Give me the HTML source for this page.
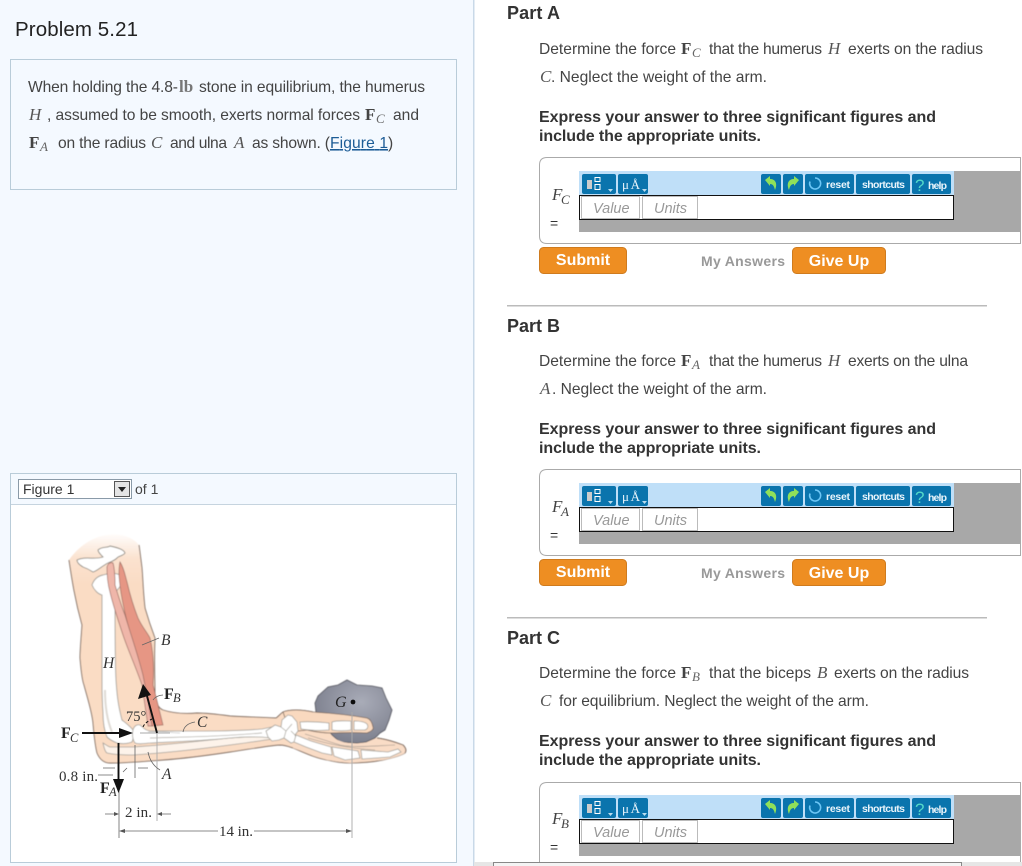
<!DOCTYPE html>
<html><head><meta charset="utf-8"><title>Problem 5.21</title>
<style>
html,body{margin:0;padding:0;width:1022px;height:866px;overflow:hidden;background:#fff}
svg{display:block}
text{font-family:"Liberation Sans",sans-serif}
.t{font-size:15.6px;fill:#444}
.m{font-family:"Liberation Serif",serif;font-style:italic;font-size:17px;fill:#555}
.mb{font-family:"Liberation Serif",serif;font-weight:bold;font-size:17px;fill:#444}
.s{font-family:"Liberation Serif",serif;font-style:italic;font-size:13px;fill:#666}
.h{font-size:18px;font-weight:bold;fill:#333}
.b{font-size:16px;font-weight:bold;fill:#333}
.btn{fill:#0a74ad}
.w{font-size:10.5px;font-weight:bold;fill:#e8f4fb}
.ph{font-size:14.5px;font-style:italic;fill:#999}
.o{fill:#ee8e22;stroke:#cf7b1e}
.ot{font-size:16px;font-weight:bold;fill:#fff;text-anchor:middle}
.my{font-size:14px;font-weight:bold;fill:#999}
.fs{font-family:"Liberation Serif",serif;font-size:15px;fill:#333}
.fi{font-family:"Liberation Serif",serif;font-size:15.5px;font-style:italic;fill:#333}
.fb{font-family:"Liberation Serif",serif;font-size:16px;font-weight:bold;fill:#222}
.fsub{font-family:"Liberation Serif",serif;font-size:12.5px;font-style:italic;fill:#333}
.bone{fill:#fff;stroke:#a5a199;stroke-width:.8}
.ol{fill:none;stroke:#7a665a;stroke-width:.9}
.dim{stroke:#666;stroke-width:.8;fill:none}
.lt{stroke:#aaa;stroke-width:.9;fill:none}
</style></head><body>
<svg width="1022" height="866" viewBox="0 0 1022 866" xmlns="http://www.w3.org/2000/svg">
<defs>
<linearGradient id="arm" gradientUnits="userSpaceOnUse" x1="0" y1="532" x2="0" y2="585"><stop offset="0" stop-color="#ffffff"/><stop offset=".5" stop-color="#fbe2cf"/><stop offset="1" stop-color="#fadcc4"/></linearGradient>
<radialGradient id="st" cx="60%" cy="35%" r="70%"><stop offset="0" stop-color="#a9acb8"/><stop offset="1" stop-color="#7a7d8b"/></radialGradient>
<filter id="bl"><feGaussianBlur stdDeviation=".4"/></filter>
<filter id="bl2"><feGaussianBlur stdDeviation=".25"/></filter>
</defs>

<!-- left column -->
<rect x="0" y="0" width="473" height="866" fill="#f4f9ff"/>
<rect x="473" y="0" width="1.5" height="866" fill="#c9d9e8"/>
<text x="15" y="36" font-size="20.5" fill="#222" textLength="123">Problem 5.21</text>
<rect x="10.5" y="59.5" width="446" height="130" fill="#f4f9ff" stroke="#b9ccd9"/>
<text class="t" x="28" y="92" textLength="150">When holding the 4.8-</text>
<text class="mb" x="179" y="92" style="fill:#777">lb</text>
<text class="t" x="199" y="92" textLength="226">stone in equilibrium, the humerus</text>
<text class="m" x="29" y="120">H</text>
<text class="t" x="47" y="120" textLength="313">, assumed to be smooth, exerts normal forces</text>
<text class="mb" x="365" y="120">F</text><text class="s" x="376" y="123">C</text>
<text class="t" x="393" y="120" textLength="26">and</text>
<text class="mb" x="29" y="148">F</text><text class="s" x="40" y="151">A</text>
<text class="t" x="58" y="148" textLength="88">on the radius</text>
<text class="m" x="151" y="148">C</text>
<text class="t" x="170" y="148" textLength="57">and ulna</text>
<text class="m" x="234" y="148">A</text>
<text class="t" x="252" y="148" textLength="78">as shown. (</text>
<text class="t" x="330" y="148" textLength="58" style="fill:#1c5c96" text-decoration="underline">Figure 1</text>
<text class="t" x="388" y="148">)</text>

<!-- figure box -->
<rect x="10.5" y="473.5" width="446" height="389" fill="#fff" stroke="#b9ccd9"/>
<rect x="11" y="474" width="445" height="30" fill="#f4f9ff"/>
<line x1="11" y1="504.5" x2="456" y2="504.5" stroke="#c6d4df"/>
<rect x="18.5" y="479.5" width="113" height="19" fill="#fff" stroke="#8a9aa8"/>
<text x="23" y="494" font-size="14" fill="#333">Figure 1</text>
<rect x="114.5" y="481.5" width="15" height="15" fill="#e4e4e4" stroke="#555"/>
<path d="M118 487h8l-4 5z" fill="#222"/>
<text x="135" y="494" font-size="14" fill="#444">of 1</text>

<!-- arm drawing -->
<g filter="url(#bl)">
<path d="M69 560C72 580 75 600 82 625C81 640 80 650 80 658C81 670 82 680 84 685C88 700 92 712 93 723C94 735 95 745 97 753C100 760 104 763 110 763C130 763 150 761 163 760C190 758 210 755 230 752C245 750 265 746 280 745C285 745 290 747 293 748C305 753 315 758 327 760C335 762 343 763 350 763C362 763 373 762 383 760C392 758 400 756 405 753C407 750 405 747 403 745C395 742 385 739 377 738L367 733C372 731 374 729 373 727C372 722 370 719 367 718C350 715 330 713 313 712C303 710 290 709 283 712C280 714 278 717 276 718C260 717 245 717 230 716C215 714 205 713 197 713C185 714 172 713 163 710C158 708 156 703 155 697C155 680 154 660 155 638C150 625 147 615 145 608C143 590 143 580 142 568C141 560 140 552 139 545C125 528 90 530 69 560Z" fill="url(#arm)"/>
<path class="ol" d="M69 560C72 580 75 600 82 625C81 640 80 650 80 658C81 670 82 680 84 685C88 700 92 712 93 723C94 735 95 745 97 753C100 760 104 763 110 763C130 763 150 761 163 760C190 758 210 755 230 752C245 750 265 746 280 745C285 745 290 747 293 748C305 753 315 758 327 760C335 762 343 763 350 763C362 763 373 762 383 760C392 758 400 756 405 753C407 750 405 747 403 745C395 742 385 739 377 738"/>
<path class="ol" d="M139 545C140 552 141 560 142 568C143 580 143 590 145 608C147 615 150 625 155 638C154 660 155 680 155 697C156 703 158 708 163 710C172 713 185 714 197 713C205 713 215 714 230 716C245 717 260 717 276 718C278 717 280 714 283 712C290 709 303 710 313 712"/>
<!-- stone -->
<path d="M315 703L318 696 328 687 338 685 347 680 357 685 372 686 382 688 386 698 392 710 389 720 385 730 380 733 375 738 366 742 357 743 340 742 332 735 322 722 316 712Z" fill="url(#st)" stroke="#4f5059" stroke-width=".8"/>
<!-- thumb and palm -->
<path d="M283 712C290 709 303 710 313 712C330 713 350 715 367 718C370 719 372 722 373 727C374 729 372 731 367 733C350 732 340 733 330 733C320 733 312 731 307 730L290 732Z" fill="#f9d9bf" stroke="#7a665a" stroke-width=".8"/>
<path d="M297 734C310 737 325 738 333 737C340 743 355 745 366 743C370 742 374 740 377 738C385 739 395 742 403 745C405 747 407 750 405 753C400 756 392 758 383 760L350 763 327 760 293 748Z" fill="#f9dcc6"/>
<path class="ol" d="M377 738C385 739 395 742 403 745C405 747 407 750 405 753"/>
<!-- scapula / humerus -->
<path d="M77 560C85 556 95 560 103 557C100 554 98 552 98 550C102 546 108 548 110 546C115 547 124 549 125 553C123 556 118 556 117 558C114 561 110 562 108 563C102 566 97 571 93 572C90 570 86 568 83 567C80 565 77 563 77 560Z" fill="#fff" stroke="#8f8a80" stroke-width=".9"/>
<path d="M92 585C94 579 98 576 103 575C110 573 116 573 120 575C122 577 123 580 123 582C120 587 118 590 115 592C115 620 115 660 116 680C117 695 118 705 122 720C127 724 131 727 133 730C134 735 133 740 132 742C127 744 122 744 117 743C112 741 109 739 107 737C104 730 103 722 103 713C102 700 102 690 102 680C102 650 102 620 102 595C98 594 94 590 92 585Z" fill="#fff" stroke="#a5a199" stroke-width=".9"/>
<path d="M105 690C105 705 107 720 112 732" stroke="#dedad4" stroke-width="2" fill="none"/>
<!-- ulna -->
<path d="M103 743C104 748 105 752 107 753C115 755 125 755 133 755C165 753 200 749 230 745C245 743 260 741 272 739L272 735C255 737 245 737 230 738C200 741 165 745 133 747C125 747 115 747 110 747C107 746 105 744 103 743Z" fill="#fdf3ea" stroke="#a5a199" stroke-width=".8"/>
<!-- radius -->
<path d="M133 730C134 726 137 724 140 725C143 727 144 730 150 731C180 731 225 732 262 729L272 727L272 738C255 736 240 737 230 738C200 741 170 742 150 743C146 743 140 745 135 743C133 740 132 735 133 730Z" class="bone"/>
<path d="M150 738C180 737 215 737 262 733" stroke="#a8a49c" stroke-width=".7" fill="none"/>
<path d="M148 732C165 731 172 733 180 733" fill="none" stroke="#aaa" stroke-width=".5"/>
<!-- carpals -->
<path d="M266 731L275 725 281 727 282 720 288 715 292 716 297 722 298 731 295 735 297 741 291 743 284 738 279 740 272 741 268 737Z" class="bone"/>
<path d="M281 727L286 731 292 724M286 731L284 738M291 731L295 735" stroke="#a5a199" stroke-width=".7" fill="none"/>
<!-- thumb bones -->
<path d="M300 722C310 721 318 722 329 723L329 730C318 731 308 730 301 729Z" class="bone"/>
<path d="M332 722C338 720 345 721 351 721L351 730C345 731 338 731 332 730Z" class="bone"/>
<path d="M354 721C360 721 365 722 367 724C369 727 367 730 364 730L354 730Z" class="bone"/>
<!-- finger bones -->
<path d="M296 735L311 741 331 747 332 755 322 753 306 747 294 742Z" class="bone"/>
<path d="M332 747L358 751 360 758 345 760 334 756Z" class="bone"/>
<path d="M361 750L388 752 398 749 401 752 390 757 362 759Z" class="bone"/>
<path d="M305 734C318 738 330 742 340 745C355 748 372 746 395 745" stroke="#948d84" stroke-width=".6" fill="none"/>
<path d="M308 738C325 743 345 748 375 750" stroke="#948d84" stroke-width=".6" fill="none"/>
<!-- biceps -->
<path d="M120 562C124 568 125 575 127 582C130 595 134 608 138 618C142 627 147 632 150 638C153 650 154 668 153 685L163 725 152 726 146 695C142 675 135 650 128 625C124 610 120 590 119 575C119 570 119 566 120 562Z" fill="#e69684" stroke="#9a6a60" stroke-width=".7"/>
<path d="M107 567C108 563 111 562 113 563C115 570 115 578 115 585C118 595 121 605 125 615C131 635 138 655 143 675C146 690 149 705 152 726L148 726C146 712 144 698 142 685C135 665 128 650 123 635C118 620 113 605 110 592C108 585 107 575 107 567Z" fill="#efb6a9" stroke="#9a6a60" stroke-width=".7"/>
</g>

<!-- dimensions -->
<g class="lt">
<line x1="157" y1="733" x2="157" y2="821"/>
<line x1="352" y1="712" x2="352" y2="838"/>
<line x1="140" y1="733" x2="170" y2="733"/>
</g>
<g class="dim">
<line x1="119" y1="790" x2="119" y2="838"/>
<line x1="135" y1="745" x2="135" y2="778"/>
<path d="M103 768H115M138 768H148M98 775H113M123 772L127 768"/>
<path d="M105 814H117M159 814H171"/>
<path d="M122 831H218M254 831H350"/>
<path d="M148 752C150 762 155 767 160 770"/>
<path d="M183 732C184 726 189 723 195 722"/>
<path d="M142 645L159 638"/>
<path d="M153 700C155 697 159 695 163 695"/>
</g>
<path d="M119 831l6-2v4zM352 831l-6-2v4zM119 814l-5-2v4zM157 814l5-2v4z" fill="#555"/>

<!-- force arrows -->
<g fill="#111" stroke="#111">
<line x1="82" y1="733" x2="122" y2="733" stroke-width="1.9"/>
<path d="M119 728L133 733 119 738Z" stroke="none"/>
<line x1="118.500" y1="743" x2="118.500" y2="782" stroke-width="1.9"/>
<path d="M113 779L118.500 793 124 779Z" stroke="none"/>
<line x1="157" y1="733" x2="147" y2="696" stroke-width="1.9"/>
<path d="M151 695L143 684 138 699Z" stroke="none"/>
<path d="M143 727C144 724 148 721 152 719" fill="none" stroke-width="1" stroke-dasharray="3 2"/>
</g>

<g filter="url(#bl2)">
<text class="fs" x="126" y="721" style="font-size:14.500px">75°</text>
<text class="fi" x="103" y="668">H</text>
<text class="fi" x="161" y="645">B</text>
<text class="fb" x="164" y="699">F</text><text class="fsub" x="173" y="702">B</text>
<text class="fi" x="197" y="727">C</text>
<text class="fi" x="335" y="707" style="font-size:16px;fill:#222">G</text>
<circle cx="353" cy="702" r="2.400" fill="#111"/>
<text class="fb" x="61" y="738">F</text><text class="fsub" x="70" y="742">C</text>
<text class="fs" x="59" y="781" textLength="39">0.8 in.</text>
<text class="fb" x="100" y="793">F</text><text class="fsub" x="109" y="796">A</text>
<text class="fi" x="162" y="779">A</text>
<text class="fs" x="125" y="817" textLength="27">2 in.</text>
<text class="fs" x="219" y="836" textLength="34">14 in.</text>
</g>

<!-- PART A -->
<text class="h" x="507" y="19" textLength="53">Part A</text>
<text class="t" x="539" y="54" textLength="137">Determine the force</text>
<text class="mb" x="681" y="54">F</text><text class="s" x="692" y="57">C</text>
<text class="t" x="709" y="54" textLength="113">that the humerus</text>
<text class="m" x="828" y="54">H</text>
<text class="t" x="848" y="54" textLength="135">exerts on the radius</text>
<text class="m" x="540" y="82">C</text>
<text class="t" x="551" y="82" textLength="216">. Neglect the weight of the arm.</text>
<text class="b" x="539" y="122" textLength="397">Express your answer to three significant figures and</text>
<text class="b" x="539" y="141" textLength="222">include the appropriate units.</text>
<g>
<path d="M1020.500 157.500H547Q539.500 157.500 539.500 165V236Q539.500 243.500 547 243.500H1020.500Z" fill="#fff" stroke="#aaa"/>
<rect x="579" y="171" width="375" height="24" fill="#bfdff8"/>
<rect x="954" y="171" width="66" height="61" fill="#a8a8a8"/>
<rect x="579" y="220" width="375" height="12" fill="#a8a8a8"/>
<rect x="579.500" y="195.500" width="374" height="24" fill="#fff" stroke="#111"/>
<rect x="581.500" y="196.500" width="58" height="22" fill="#fff" stroke="#bbb"/>
<rect x="642.500" y="196.500" width="55" height="22" fill="#fff" stroke="#bbb"/>
<text class="ph" x="593" y="213">Value</text><text class="ph" x="654" y="213">Units</text>
<rect class="btn" x="582" y="174" width="34" height="20" rx="2"/><rect class="btn" x="618" y="174" width="30" height="20" rx="2"/>
<rect x="587" y="180" width="5" height="9" fill="#ccc"/><path d="M595 177.500h5v4h-5zM595 184.500h5v5h-5z" fill="none" stroke="#fff"/><path d="M608 189h5l-2.500 3z" fill="#bde"/>
<text x="622" y="189" font-size="13" fill="#e8f4fb" style="font-family:'Liberation Serif',serif" textLength="18">μÅ</text><path d="M642 189h5l-2.500 3z" fill="#bde"/>
<rect class="btn" x="761" y="174" width="20" height="20" rx="2"/><rect class="btn" x="783" y="174" width="20" height="20" rx="2"/>
<rect class="btn" x="805" y="174" width="49" height="20" rx="2"/><rect class="btn" x="856" y="174" width="54" height="20" rx="2"/><rect class="btn" x="912" y="174" width="39" height="20" rx="2"/>
<path d="M765 180l5-4v3c5 0 8 4 5 11c-1-4-2-6-5-6v2z" fill="#8fe05a"/><path d="M799 180l-5-4v3c-5 0-8 4-5 11c1-4 2-6 5-6v2z" fill="#8fe05a"/>
<path d="M815 178a5.500 5.500 0 1 1-5 3.500" fill="none" stroke="#6cc6f5" stroke-width="1.600"/>
<text class="w" x="826" y="188" textLength="24">reset</text><text class="w" x="862" y="188" textLength="43">shortcuts</text>
<text x="915" y="191" font-size="17" fill="#53d8c8">?</text><text class="w" x="928" y="189" textLength="19">help</text>
<text class="m" x="552" y="200" style="fill:#444">F</text><text class="s" x="561" y="204" style="fill:#444">C</text>
<text x="550" y="228" font-size="14" fill="#333">=</text>
<rect class="o" x="539.500" y="247.500" width="87" height="26" rx="4"/><text class="ot" x="583" y="265">Submit</text>
<text class="my" x="701" y="266" textLength="84">My Answers</text>
<rect class="o" x="792.500" y="247.500" width="93" height="26" rx="4"/><text class="ot" x="839" y="266">Give Up</text>
</g>
<rect x="507" y="305" width="480" height="1.500" fill="#bbb"/>

<!-- PART B -->
<text class="h" x="507" y="332" textLength="53">Part B</text>
<text class="t" x="539" y="366" textLength="137">Determine the force</text>
<text class="mb" x="681" y="366">F</text><text class="s" x="692" y="369">A</text>
<text class="t" x="709" y="366" textLength="113">that the humerus</text>
<text class="m" x="828" y="366">H</text>
<text class="t" x="848" y="366" textLength="120">exerts on the ulna</text>
<text class="m" x="540" y="394">A</text>
<text class="t" x="552" y="394" textLength="215">. Neglect the weight of the arm.</text>
<text class="b" x="539" y="434" textLength="397">Express your answer to three significant figures and</text>
<text class="b" x="539" y="453" textLength="222">include the appropriate units.</text>
<g transform="translate(0 312)">
<path d="M1020.500 157.500H547Q539.500 157.500 539.500 165V236Q539.500 243.500 547 243.500H1020.500Z" fill="#fff" stroke="#aaa"/>
<rect x="579" y="171" width="375" height="24" fill="#bfdff8"/>
<rect x="954" y="171" width="66" height="61" fill="#a8a8a8"/>
<rect x="579" y="220" width="375" height="12" fill="#a8a8a8"/>
<rect x="579.500" y="195.500" width="374" height="24" fill="#fff" stroke="#111"/>
<rect x="581.500" y="196.500" width="58" height="22" fill="#fff" stroke="#bbb"/>
<rect x="642.500" y="196.500" width="55" height="22" fill="#fff" stroke="#bbb"/>
<text class="ph" x="593" y="213">Value</text><text class="ph" x="654" y="213">Units</text>
<rect class="btn" x="582" y="174" width="34" height="20" rx="2"/><rect class="btn" x="618" y="174" width="30" height="20" rx="2"/>
<rect x="587" y="180" width="5" height="9" fill="#ccc"/><path d="M595 177.500h5v4h-5zM595 184.500h5v5h-5z" fill="none" stroke="#fff"/><path d="M608 189h5l-2.500 3z" fill="#bde"/>
<text x="622" y="189" font-size="13" fill="#e8f4fb" style="font-family:'Liberation Serif',serif" textLength="18">μÅ</text><path d="M642 189h5l-2.500 3z" fill="#bde"/>
<rect class="btn" x="761" y="174" width="20" height="20" rx="2"/><rect class="btn" x="783" y="174" width="20" height="20" rx="2"/>
<rect class="btn" x="805" y="174" width="49" height="20" rx="2"/><rect class="btn" x="856" y="174" width="54" height="20" rx="2"/><rect class="btn" x="912" y="174" width="39" height="20" rx="2"/>
<path d="M765 180l5-4v3c5 0 8 4 5 11c-1-4-2-6-5-6v2z" fill="#8fe05a"/><path d="M799 180l-5-4v3c-5 0-8 4-5 11c1-4 2-6 5-6v2z" fill="#8fe05a"/>
<path d="M815 178a5.500 5.500 0 1 1-5 3.500" fill="none" stroke="#6cc6f5" stroke-width="1.600"/>
<text class="w" x="826" y="188" textLength="24">reset</text><text class="w" x="862" y="188" textLength="43">shortcuts</text>
<text x="915" y="191" font-size="17" fill="#53d8c8">?</text><text class="w" x="928" y="189" textLength="19">help</text>
<text class="m" x="552" y="200" style="fill:#444">F</text><text class="s" x="561" y="204" style="fill:#444">A</text>
<text x="550" y="228" font-size="14" fill="#333">=</text>
<rect class="o" x="539.500" y="247.500" width="87" height="26" rx="4"/><text class="ot" x="583" y="265">Submit</text>
<text class="my" x="701" y="266" textLength="84">My Answers</text>
<rect class="o" x="792.500" y="247.500" width="93" height="26" rx="4"/><text class="ot" x="839" y="266">Give Up</text>
</g>
<rect x="507" y="617" width="480" height="1.500" fill="#bbb"/>

<!-- PART C -->
<text class="h" x="507" y="644" textLength="53">Part C</text>
<text class="t" x="539" y="678" textLength="137">Determine the force</text>
<text class="mb" x="681" y="678">F</text><text class="s" x="692" y="681">B</text>
<text class="t" x="709" y="678" textLength="102">that the biceps</text>
<text class="m" x="817" y="678">B</text>
<text class="t" x="834" y="678" textLength="135">exerts on the radius</text>
<text class="m" x="540" y="706">C</text>
<text class="t" x="559" y="706" textLength="310">for equilibrium. Neglect the weight of the arm.</text>
<text class="b" x="539" y="746" textLength="397">Express your answer to three significant figures and</text>
<text class="b" x="539" y="765" textLength="222">include the appropriate units.</text>
<g transform="translate(0 624)">
<path d="M1020.500 242V158.500H547Q539.500 158.500 539.500 166V240" fill="#fff" stroke="#aaa"/>
<rect x="579" y="171" width="375" height="24" fill="#bfdff8"/>
<rect x="954" y="171" width="66" height="61" fill="#a8a8a8"/>
<rect x="579" y="220" width="375" height="12" fill="#a8a8a8"/>
<rect x="579.500" y="195.500" width="374" height="24" fill="#fff" stroke="#111"/>
<rect x="581.500" y="196.500" width="58" height="22" fill="#fff" stroke="#bbb"/>
<rect x="642.500" y="196.500" width="55" height="22" fill="#fff" stroke="#bbb"/>
<text class="ph" x="593" y="213">Value</text><text class="ph" x="654" y="213">Units</text>
<rect class="btn" x="582" y="174" width="34" height="20" rx="2"/><rect class="btn" x="618" y="174" width="30" height="20" rx="2"/>
<rect x="587" y="180" width="5" height="9" fill="#ccc"/><path d="M595 177.500h5v4h-5zM595 184.500h5v5h-5z" fill="none" stroke="#fff"/><path d="M608 189h5l-2.500 3z" fill="#bde"/>
<text x="622" y="189" font-size="13" fill="#e8f4fb" style="font-family:'Liberation Serif',serif" textLength="18">μÅ</text><path d="M642 189h5l-2.500 3z" fill="#bde"/>
<rect class="btn" x="761" y="174" width="20" height="20" rx="2"/><rect class="btn" x="783" y="174" width="20" height="20" rx="2"/>
<rect class="btn" x="805" y="174" width="49" height="20" rx="2"/><rect class="btn" x="856" y="174" width="54" height="20" rx="2"/><rect class="btn" x="912" y="174" width="39" height="20" rx="2"/>
<path d="M765 180l5-4v3c5 0 8 4 5 11c-1-4-2-6-5-6v2z" fill="#8fe05a"/><path d="M799 180l-5-4v3c-5 0-8 4-5 11c1-4 2-6 5-6v2z" fill="#8fe05a"/>
<path d="M815 178a5.500 5.500 0 1 1-5 3.500" fill="none" stroke="#6cc6f5" stroke-width="1.600"/>
<text class="w" x="826" y="188" textLength="24">reset</text><text class="w" x="862" y="188" textLength="43">shortcuts</text>
<text x="915" y="191" font-size="17" fill="#53d8c8">?</text><text class="w" x="928" y="189" textLength="19">help</text>
<text class="m" x="552" y="200" style="fill:#444">F</text><text class="s" x="561" y="204" style="fill:#444">B</text>
<text x="550" y="228" font-size="14" fill="#333">=</text>
</g>
<!-- bottom strip -->
<rect x="474" y="862" width="548" height="4" fill="#e6e6e6"/>
<path d="M493.500 866V862.500H961.500V866" fill="#f4f4f4" stroke="#888"/>
</svg>
</body></html>
